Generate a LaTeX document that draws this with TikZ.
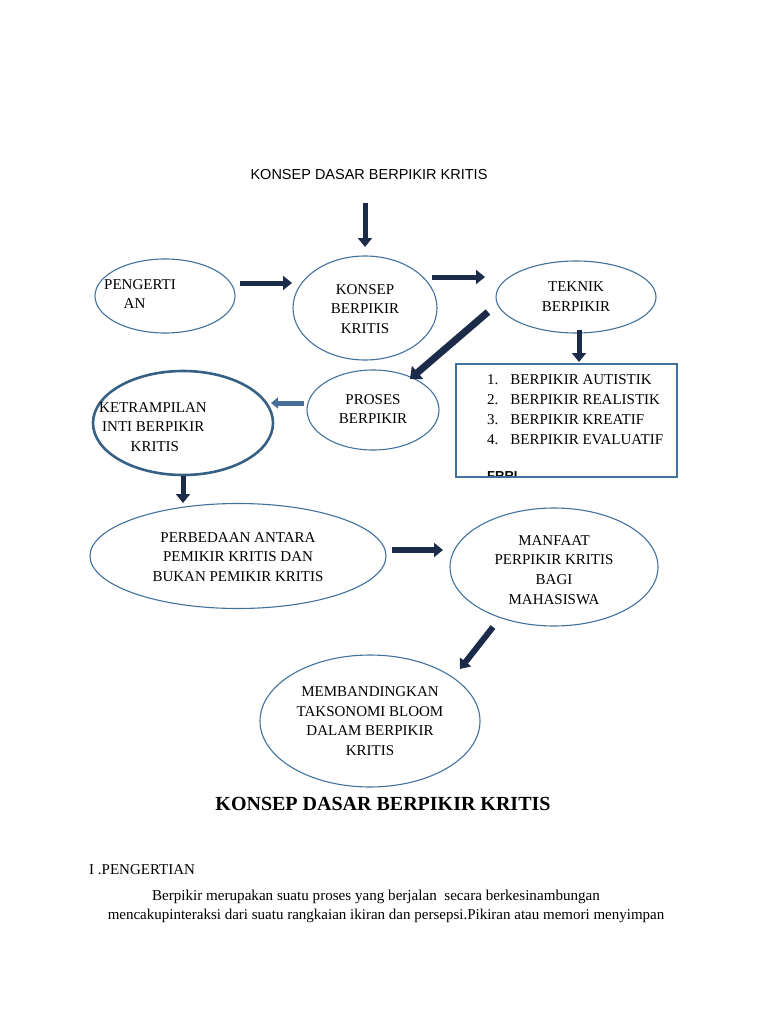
\documentclass[tikz,border=0pt]{standalone}
\usepackage{fontspec}
\setmainfont{Liberation Serif}
\newfontfamily\arialf{Liberation Sans}
\usetikzlibrary{shapes.geometric,arrows.meta}
\definecolor{eblue}{HTML}{41719C}
\definecolor{anavy}{HTML}{1C2B4A}
\definecolor{asteel}{HTML}{4A6E9A}
\tikzset{
  bub/.style={draw=eblue,line width=1.1pt,ellipse,inner sep=0pt},
  txt/.style={font=\fontsize{15}{19.8}\selectfont,align=center,inner sep=0pt},
  blk/.style={draw=anavy,line width=5pt,-{Triangle[width=14pt,length=9pt]}},
}
\begin{document}
\begin{tikzpicture}[x=1pt,y=-1pt]
\useasboundingbox (0,0) rectangle (768,1024);
% title
\node[font=\arialf\fontsize{14.5}{17}\selectfont,inner sep=0pt] (title) at (369,175) {KONSEP DASAR BERPIKIR KRITIS};
% ellipses
\node[bub,minimum width=140pt,minimum height=74pt] (peng) at (165,296) {};
\node[txt,align=left,anchor=west] (pengt) at (104,294) {PENGERTI\\\hspace*{1.3em}AN};
\node[bub,minimum width=144pt,minimum height=104pt] (konsep) at (365,308) {};
\node[txt] (konsept) at (365,309) {KONSEP\\BERPIKIR\\KRITIS};
\node[bub,minimum width=160pt,minimum height=72pt] (teknik) at (576,297) {};
\node[txt] (teknikt) at (576,297) {TEKNIK\\BERPIKIR};
\node[bub,minimum width=132pt,minimum height=80pt] (proses) at (373,410) {};
\node[txt] (prosest) at (373,409) {PROSES\\BERPIKIR};
\node[bub,draw=eblue!85!black,line width=2.6pt,minimum width=180pt,minimum height=104pt] (ketr) at (183,423) {};
\node[txt,align=left,anchor=west] (ketrt) at (99,427) {KETRAMPILAN\\\hspace*{0.2em}INTI BERPIKIR\\\hspace*{2.1em}KRITIS};
\node[bub,minimum width=296pt,minimum height=105pt] (perb) at (238,556) {};
\node[txt] (perbt) at (238,557) {PERBEDAAN ANTARA\\PEMIKIR KRITIS DAN\\BUKAN PEMIKIR KRITIS};
\node[bub,minimum width=208pt,minimum height=118pt] (manf) at (554,567) {};
\node[txt] (manft) at (554,570) {MANFAAT\\PERPIKIR KRITIS\\BAGI\\MAHASISWA};
\node[bub,minimum width=220pt,minimum height=132pt] (memb) at (370,721) {};
\node[txt] (membt) at (370,721) {MEMBANDINGKAN\\TAKSONOMI BLOOM\\DALAM BERPIKIR\\KRITIS};
% list box
\node[draw=eblue,line width=1.1pt,minimum width=221pt,minimum height=113pt,inner sep=0pt] (list) at (566.5,420.5) {};
\node[txt,align=left,anchor=north west,font=\fontsize{15}{20}\selectfont] (listt) at (487,374) {%
1.\hspace{0.8em}BERPIKIR AUTISTIK\\
2.\hspace{0.8em}BERPIKIR REALISTIK\\
3.\hspace{0.8em}BERPIKIR KREATIF\\
4.\hspace{0.8em}BERPIKIR EVALUATIF};
\begin{scope}
\clip (list.south west) ++(0,-2.5) rectangle ++(221,-12);
\node[font=\arialf\bfseries\fontsize{13}{15}\selectfont,anchor=base west,inner sep=0pt] (cut) at (487,480) {FRRI};
\end{scope}
% arrow end points
\coordinate (a1s) at (365,203); \coordinate (a1e) at (365,247);
\coordinate (a2s) at (240,283); \coordinate (a2e) at (292,283);
\coordinate (a3s) at (432,277); \coordinate (a3e) at (485,277);
\coordinate (a4s) at (488,312); \coordinate (a4e) at (410,379);
\coordinate (a5s) at (579,330); \coordinate (a5e) at (579,362);
\coordinate (a6s) at (304,403); \coordinate (a6e) at (271,403);
\coordinate (a7s) at (183,476); \coordinate (a7e) at (183,503);
\coordinate (a8s) at (392,550); \coordinate (a8e) at (443,550);
\coordinate (a9s) at (493,627); \coordinate (a9e) at (460,669);
\draw[blk] (a1s) -- (a1e);
\draw[blk] (a2s) -- (a2e);
\draw[blk] (a3s) -- (a3e);
\draw[blk,line width=7pt,-{Triangle[width=17pt,length=10pt]}] (a4s) -- (a4e);
\draw[blk] (a5s) -- (a5e);
\draw[blk,draw=asteel,line width=5pt,-{Triangle[width=11pt,length=7pt]}] (a6s) -- (a6e);
\draw[blk] (a7s) -- (a7e);
\draw[blk,line width=6pt] (a8s) -- (a8e);
\draw[blk,line width=6pt] (a9s) -- (a9e);
% text below
\node[font=\bfseries\fontsize{20}{24}\selectfont,inner sep=0pt] (head) at (383,804) {KONSEP DASAR BERPIKIR KRITIS};
\node[font=\fontsize{15}{17}\selectfont,anchor=west,inner sep=0pt] (sec) at (89,870) {I .PENGERTIAN};
\node[font=\fontsize{15.1}{17}\selectfont,inner sep=0pt] (p1) at (376,897) {Berpikir merupakan suatu proses yang berjalan \ secara berkesinambungan};
\node[font=\fontsize{15}{17}\selectfont,inner sep=0pt] (p2) at (386,916) {mencakupinteraksi dari suatu rangkaian ikiran dan persepsi.Pikiran atau memori menyimpan};
\end{tikzpicture}
\end{document}
